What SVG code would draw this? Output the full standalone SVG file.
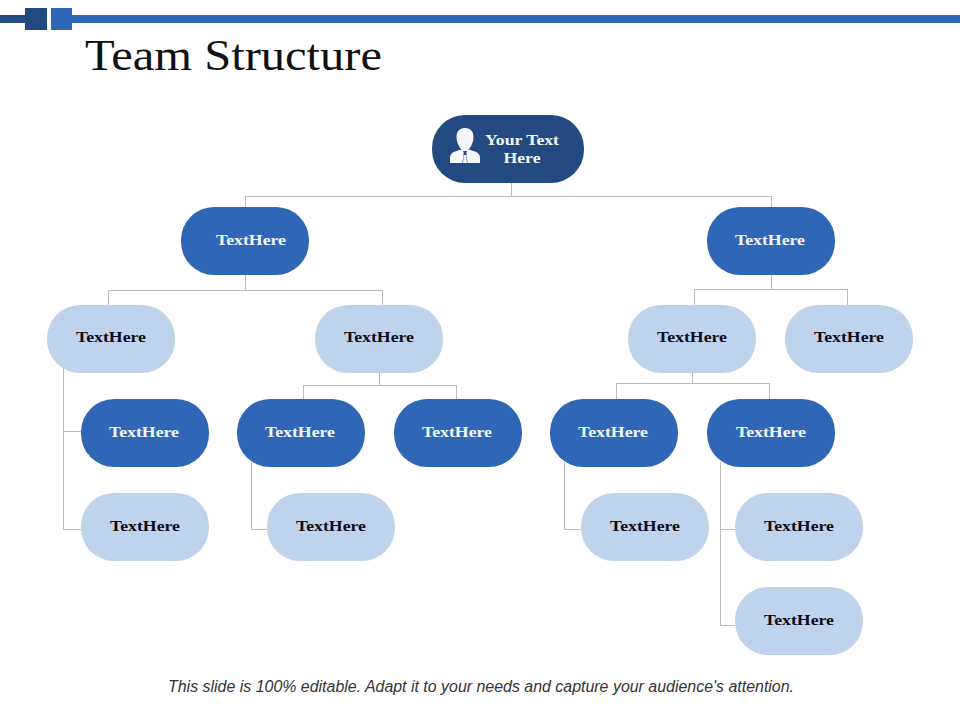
<svg xmlns="http://www.w3.org/2000/svg" width="960" height="720" viewBox="0 0 960 720">
<style>
.d{fill:#2f67b6}
.l{fill:#c0d3ec}
.t{font-family:"Liberation Serif","DejaVu Serif",serif;font-weight:700;font-size:15.5px;text-anchor:middle}
.w{fill:#f2f6fb}
.k{fill:#0c0c18}
#connectors path{fill:none;stroke:#bcbcbc;stroke-width:1;shape-rendering:crispEdges}
</style>
<rect width="960" height="720" fill="#fff"/>
<g id="header">
<rect x="0" y="15" width="25" height="8" fill="#224a80"/>
<rect x="25" y="8" width="22" height="22" fill="#224a80"/>
<rect x="51" y="8" width="21" height="22" fill="#2f67b6"/>
<rect x="72" y="15" width="888" height="8" fill="#2f67b6"/>
</g>
<text id="title" x="85" y="70" font-family="Liberation Serif,serif" font-size="44" fill="#111" textLength="297" lengthAdjust="spacingAndGlyphs">Team Structure</text>
<g id="connectors">
<path d="M511.500 183V196.500M245.500 207V196.500H771.500V207"/>
<path d="M245.500 275V290.500M108.500 305V290.500H382.500V305"/>
<path d="M771.500 275V289.500M694.500 305V289.500H847.500V305"/>
<path d="M379.500 373V385.500M303.500 399V385.500H456.500V399"/>
<path d="M692.500 373V383.500M616.500 399V383.500H769.500V399"/>
<path d="M63.500 368V529.500H81M63.500 431.500H81"/>
<path d="M251.500 462V529.500H267"/>
<path d="M564.500 462V529.500H581"/>
<path d="M720.500 462V625.500H735M720.500 529.500H735"/>
</g>
<g id="root">
<rect x="432" y="115" width="152" height="68" rx="33" fill="#224a80"/>
<g fill="#f5f7fb">
<path d="M456.500 137C456.500 131 460 128 465 128C470 128 473.500 131 473.500 137C473.500 142 471 147 468.500 149.500V151H461.500V149.500C459 147 456.500 142 456.500 137Z"/>
<path d="M450 163V158Q450 153 455 151.500L461 149.500L463.700 152L462.500 163ZM480 163V158Q480 153 475 151.500L469 149.500L466.300 152L467.500 163ZM463.700 155H466.300L467 163H463Z"/>
</g>
<text class="t w" x="522" y="145" textLength="74" lengthAdjust="spacingAndGlyphs">Your Text</text>
<text class="t w" x="522" y="163" textLength="37" lengthAdjust="spacingAndGlyphs">Here</text>
</g>
<g id="n1"><rect class="d" x="181" y="207" width="128" height="68" rx="33"/><text class="t w" x="251" y="245" textLength="70" lengthAdjust="spacingAndGlyphs">TextHere</text></g>
<g id="n2"><rect class="d" x="707" y="207" width="128" height="68" rx="33"/><text class="t w" x="770" y="245" textLength="70" lengthAdjust="spacingAndGlyphs">TextHere</text></g>
<g id="n3"><rect class="l" x="47" y="305" width="128" height="68" rx="33"/><text class="t k" x="111" y="342" textLength="70" lengthAdjust="spacingAndGlyphs">TextHere</text></g>
<g id="n4"><rect class="l" x="315" y="305" width="128" height="68" rx="33"/><text class="t k" x="379" y="342" textLength="70" lengthAdjust="spacingAndGlyphs">TextHere</text></g>
<g id="n5"><rect class="l" x="628" y="305" width="128" height="68" rx="33"/><text class="t k" x="692" y="342" textLength="70" lengthAdjust="spacingAndGlyphs">TextHere</text></g>
<g id="n6"><rect class="l" x="785" y="305" width="128" height="68" rx="33"/><text class="t k" x="849" y="342" textLength="70" lengthAdjust="spacingAndGlyphs">TextHere</text></g>
<g id="n7"><rect class="d" x="81" y="399" width="128" height="68" rx="33"/><text class="t w" x="144" y="437" textLength="70" lengthAdjust="spacingAndGlyphs">TextHere</text></g>
<g id="n8"><rect class="d" x="237" y="399" width="128" height="68" rx="33"/><text class="t w" x="300" y="437" textLength="70" lengthAdjust="spacingAndGlyphs">TextHere</text></g>
<g id="n9"><rect class="d" x="394" y="399" width="128" height="68" rx="33"/><text class="t w" x="457" y="437" textLength="70" lengthAdjust="spacingAndGlyphs">TextHere</text></g>
<g id="n10"><rect class="d" x="550" y="399" width="128" height="68" rx="33"/><text class="t w" x="613" y="437" textLength="70" lengthAdjust="spacingAndGlyphs">TextHere</text></g>
<g id="n11"><rect class="d" x="707" y="399" width="128" height="68" rx="33"/><text class="t w" x="771" y="437" textLength="70" lengthAdjust="spacingAndGlyphs">TextHere</text></g>
<g id="n12"><rect class="l" x="81" y="493" width="128" height="68" rx="33"/><text class="t k" x="145" y="531" textLength="70" lengthAdjust="spacingAndGlyphs">TextHere</text></g>
<g id="n13"><rect class="l" x="267" y="493" width="128" height="68" rx="33"/><text class="t k" x="331" y="531" textLength="70" lengthAdjust="spacingAndGlyphs">TextHere</text></g>
<g id="n14"><rect class="l" x="581" y="493" width="128" height="68" rx="33"/><text class="t k" x="645" y="531" textLength="70" lengthAdjust="spacingAndGlyphs">TextHere</text></g>
<g id="n15"><rect class="l" x="735" y="493" width="128" height="68" rx="33"/><text class="t k" x="799" y="531" textLength="70" lengthAdjust="spacingAndGlyphs">TextHere</text></g>
<g id="n16"><rect class="l" x="735" y="587" width="128" height="68" rx="33"/><text class="t k" x="799" y="625" textLength="70" lengthAdjust="spacingAndGlyphs">TextHere</text></g>
<text id="caption" x="481" y="692" font-family="Liberation Sans,sans-serif" font-style="italic" font-size="16" fill="#333" text-anchor="middle" textLength="626" lengthAdjust="spacingAndGlyphs">This slide is 100% editable. Adapt it to your needs and capture your audience's attention.</text>
</svg>
